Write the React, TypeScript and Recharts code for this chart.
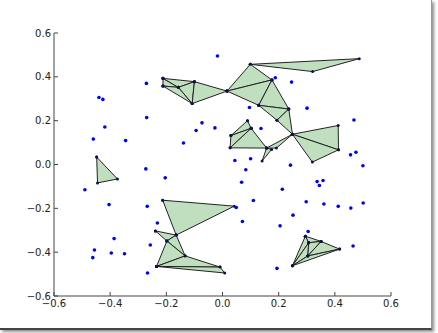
import { ScatterChart, Scatter, XAxis, YAxis } from 'recharts';

// loose blue points (not part of any triangle)
const dots: [number, number][] = [
  [-0.018, 0.495], [-0.271, 0.37], [-0.44, 0.306], [-0.426, 0.297], [-0.419, 0.171],
  [-0.27, 0.214], [-0.46, 0.116], [-0.345, 0.109], [-0.073, 0.19], [-0.094, 0.155],
  [-0.027, 0.167], [-0.139, 0.098], [0.044, 0.018], [-0.273, -0.02], [0.188, 0.396],
  [0.246, 0.376], [0.096, 0.26], [0.301, 0.257], [0.468, 0.203], [0.137, 0.164],
  [0.1, 0.026], [0.083, -0.024], [0.242, -0.003], [0.456, 0.044], [0.475, 0.056],
  [0.5, -0.006], [-0.49, -0.115], [-0.204, -0.061], [-0.404, -0.183], [-0.268, -0.191],
  [0.049, -0.196], [-0.232, -0.267], [-0.386, -0.338], [-0.257, -0.367], [-0.456, -0.39],
  [-0.396, -0.404], [-0.349, -0.407], [-0.462, -0.425], [-0.267, -0.495], [0.068, -0.081],
  [0.213, -0.113], [0.337, -0.078], [0.345, -0.096], [0.358, -0.073], [0.11, -0.164],
  [0.298, -0.17], [0.361, -0.18], [0.412, -0.191], [0.457, -0.199], [0.501, -0.176],
  [0.071, -0.26], [0.251, -0.231], [0.205, -0.28], [0.305, -0.306], [0.465, -0.372],
  [0.194, -0.474],
];

// triangle corners
const vertices: [number, number][] = [
  [-0.212, 0.393], [-0.212, 0.358], [-0.157, 0.352], [-0.1, 0.378], [-0.108, 0.278],
  [0.016, 0.335], [0.099, 0.457], [0.487, 0.483], [0.321, 0.424], [0.176, 0.386],
  [0.129, 0.27], [0.236, 0.253], [0.194, 0.202], [0.249, 0.138], [0.412, 0.178],
  [0.413, 0.067], [0.32, 0.011], [0.157, 0.075], [0.175, 0.069], [0.192, 0.075],
  [0.141, 0.016], [0.089, 0.2], [0.102, 0.165], [0.03, 0.132], [0.027, 0.076],
  [-0.448, 0.034], [-0.445, -0.084], [-0.374, -0.066], [-0.213, -0.163], [0.042, -0.19],
  [-0.165, -0.322], [-0.239, -0.303], [-0.198, -0.349], [-0.133, -0.417], [-0.235, -0.465],
  [-0.009, -0.468], [0.008, -0.495], [0.295, -0.327], [0.307, -0.357], [0.351, -0.351],
  [0.417, -0.386], [0.304, -0.417], [0.249, -0.462],
];

const triangles: [number, number, number][] = [
  [0, 1, 2], [0, 2, 3], [1, 2, 4], [2, 3, 4], [3, 4, 5],
  [6, 7, 8], [5, 6, 9], [5, 9, 10], [9, 10, 11], [10, 11, 12], [11, 12, 13],
  [13, 14, 15], [13, 15, 16], [13, 17, 19], [17, 20, 18],
  [21, 23, 22], [23, 22, 24], [22, 24, 17],
  [25, 26, 27],
  [28, 29, 30], [31, 30, 32], [30, 32, 33], [32, 34, 33], [34, 33, 35], [34, 35, 36],
  [37, 38, 39], [37, 42, 38], [38, 42, 41], [38, 39, 41], [39, 40, 41], [41, 42, 40],
];

const ticks = [-0.6, -0.4, -0.2, 0, 0.2, 0.4, 0.6];
const fmt = (v: number) => (v < 0 ? '\u2212' + Math.abs(v).toFixed(1) : v.toFixed(1));

const dotData = dots.map(([x, y]) => ({ x, y }));
const triData = triangles.map(t => [...t, t[0]].map(i => ({ x: vertices[i][0], y: vertices[i][1] })));

const tickStyle = { fontSize: 10, fill: '#222', fontFamily: 'DejaVu Sans' };

const BlueDot = (p: any) => <circle cx={p.cx} cy={p.cy} r={1.8} fill="#0000ff" />;
const Corner = (p: any) => <circle cx={p.cx} cy={p.cy} r={1.5} fill="#101050" />;
const NoTick = () => <g />;

export default function App() {
  return (
    <div style={{ position: 'absolute', left: 0, top: 0, width: 438, height: 333, background: '#fff' }}>
      <div
        style={{
          position: 'absolute', left: 0, top: 0, width: 431, height: 328,
          borderRight: '1px solid #999', borderBottom: '2px solid #444',
          boxShadow: '2px 2px 3px rgba(0,0,0,0.45)',
        }}
      />
      <div style={{ position: 'absolute', left: 0, top: 0 }}>
        <ScatterChart width={438} height={333} margin={{ top: 33, right: 47, bottom: 0, left: 0 }}>
          <XAxis
            type="number" dataKey="x" domain={[-0.6, 0.6]} ticks={ticks} tickFormatter={fmt}
            height={37} tickSize={-4} tickMargin={8} tick={tickStyle}
            stroke="#444" allowDataOverflow
          />
          <YAxis
            type="number" dataKey="y" domain={[-0.6, 0.6]} ticks={ticks} tickFormatter={fmt}
            width={54} tickSize={-4} tickMargin={7} tick={tickStyle}
            stroke="#444" allowDataOverflow
          />
          <XAxis
            xAxisId="top" orientation="top" type="number" domain={[-0.6, 0.6]} ticks={ticks}
            height={0} tickSize={-4} tick={NoTick} stroke="#444" allowDataOverflow
          />
          <YAxis
            yAxisId="right" orientation="right" type="number" domain={[-0.6, 0.6]} ticks={ticks}
            width={0} tickSize={-4} tick={NoTick} stroke="#444" allowDataOverflow
          />
          {triData.map((d, i) => (
            <Scatter
              key={i}
              data={d}
              line={{ fill: '#bfdfbf', stroke: '#222', strokeWidth: 1 }}
              lineJointType="linear"
              shape={Corner}
              isAnimationActive={false}
            />
          ))}
          <Scatter data={dotData} shape={BlueDot} isAnimationActive={false} />
        </ScatterChart>
      </div>
    </div>
  );
}
